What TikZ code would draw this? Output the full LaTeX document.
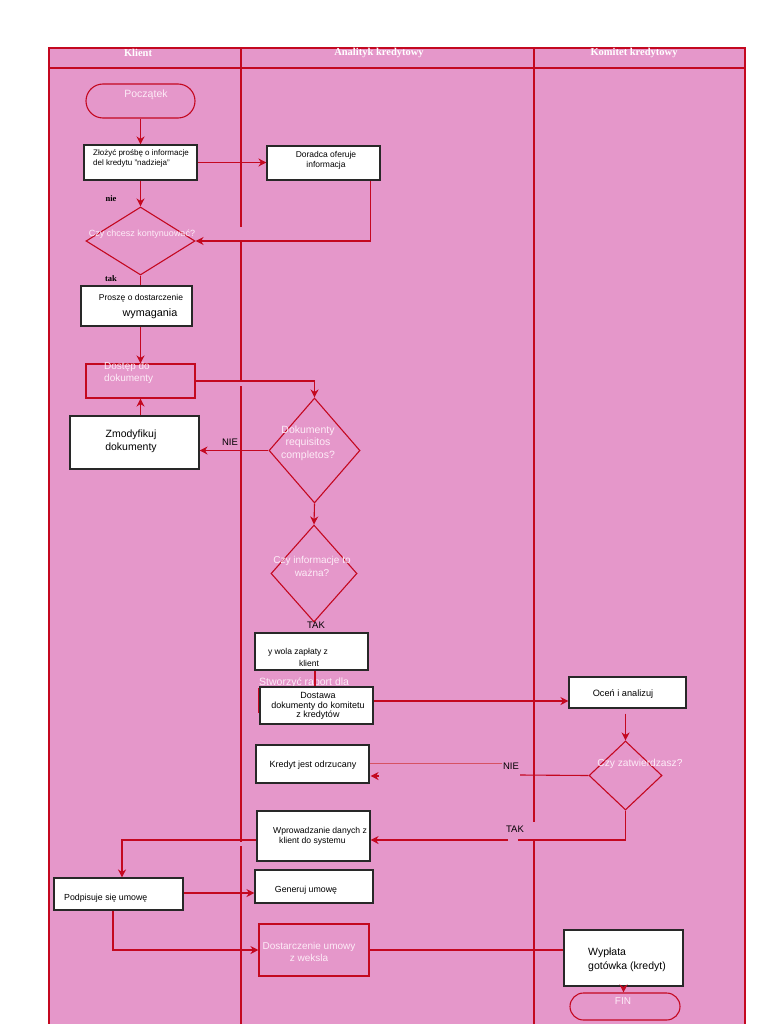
\documentclass[tikz,border=0pt]{standalone}
\usepackage{fontspec}
\setmainfont{Liberation Sans}
\newfontfamily\hdrfont{Liberation Serif}
\usetikzlibrary{arrows.meta,shapes.geometric,calc}
\definecolor{poolpink}{RGB}{229,151,202}
\definecolor{lred}{RGB}{196,8,32}
\definecolor{txtpink}{RGB}{253,236,247}
\definecolor{boxline}{RGB}{40,40,40}
\tikzset{
  wbox/.style={draw=boxline, fill=white, line width=1.1pt, inner sep=0pt},
  pbox/.style={draw=lred, fill=poolpink, line width=1.1pt, inner sep=0pt},
  dia/.style={diamond, draw=lred, fill=poolpink, line width=1.1pt, inner sep=0pt},
  term/.style={draw=lred, fill=poolpink, line width=1.1pt, inner sep=0pt},
  lane/.style={draw=lred, line width=1.5pt},
  arr/.style={draw=lred, line width=1.1pt, -{Stealth[length=8pt,width=8pt,inset=2.5pt]}},
  ln/.style={draw=lred, line width=1.1pt},
  tb/.style={inner sep=0pt, align=center, text=black},
  tw/.style={inner sep=0pt, align=center, text=txtpink},
  hdr/.style={inner sep=0pt, text=white, font=\hdrfont\bfseries\fontsize{10.5}{12}\selectfont},
  lbl/.style={inner sep=0pt, text=black, font=\hdrfont\bfseries\fontsize{8.5}{10}\selectfont},
  lbs/.style={inner sep=0pt, text=black, font=\fontsize{9.5}{11}\selectfont},
}
\begin{document}
\begin{tikzpicture}[x=1pt,y=-1pt]
\useasboundingbox (0,0) rectangle (768,1024);
\fill[white] (0,0) rectangle (768,1024);
% pool
\fill[poolpink] (49,48) rectangle (745,1030);
\draw[lane] (49,1030) -- (49,48) -- (745,48) -- (745,1030);
\draw[lane] (49,68) -- (745,68);
\draw[lane] (241,48) -- (241,227);
\draw[lane] (241,242) -- (241,380);
\draw[lane] (241,386) -- (241,842);
\draw[lane] (241,846) -- (241,1030);
\draw[lane] (534,48) -- (534,822);
\draw[lane] (534,840) -- (534,1030);
\node[hdr] (h1) at (138,53) {Klient};
\node[hdr] (h2) at (379,53) {Analityk kredytowy};
\node[hdr] (h3) at (634,53) {Komitet kredytowy};

% shapes
\node[term, rounded corners=17pt, minimum width=109, minimum height=34] (start) at (140.5,101) {};
\node[tw, font=\fontsize{10.5}{12}\selectfont] (startt) at (146,95) {Początek};

\node[wbox, minimum width=113, minimum height=35] (b1) at (140.5,162.5) {};
\node[tb, align=left, anchor=west, font=\fontsize{8}{10}\selectfont] (b1t) at (93,158) {Złożyć prośbę o informacje\\del kredytu "nadzieja"};

\node[wbox, minimum width=113, minimum height=34] (dor) at (323.5,163) {};
\node[tb, font=\fontsize{8.5}{10}\selectfont] (dort) at (326,160) {Doradca oferuje\\informacja};

\node[dia, minimum width=109, minimum height=68] (d1) at (140.5,241) {};
\node[tw, font=\fontsize{9}{10}\selectfont] (d1t) at (142,234) {Czy chcesz kontynuować?};
\node[lbl] (nie) at (111,199) {nie};
\node[lbl] (tak) at (111,279) {tak};

\node[wbox, minimum width=111, minimum height=40] (pro) at (136.5,306) {};
\node[tb, font=\fontsize{8.5}{10}\selectfont] (prot1) at (141,298) {Proszę o dostarczenie};
\node[tb, font=\fontsize{10.8}{12}\selectfont] (prot2) at (150,314) {wymagania};

\node[pbox, minimum width=109, minimum height=34] (dos) at (140.5,381) {};
\node[tw, align=left, anchor=west, font=\fontsize{10}{12}\selectfont] (dost) at (104,373) {Dostęp do\\dokumenty};

\node[wbox, minimum width=129, minimum height=53] (zmo) at (134.5,442.5) {};
\node[tb, font=\fontsize{10.5}{13}\selectfont] (zmot) at (131,441) {Zmodyfikuj\\dokumenty};

\node[dia, minimum width=91, minimum height=105] (d2) at (314.5,450.5) {};
\node[tw, font=\fontsize{10.5}{12.5}\selectfont] (d2t) at (308,443) {Dokumenty\\requisitos\\completos?};

\node[dia, minimum width=86, minimum height=97] (d3) at (314,573.5) {};
\node[tw, font=\fontsize{10}{13}\selectfont] (d3t) at (312,566) {Czy informacje to\\ważna?};
\node[lbs] (tak2) at (316,625) {TAK};

\node[wbox, minimum width=113, minimum height=37] (ywo) at (311.5,651.5) {};
\node[tb, font=\fontsize{8.5}{11}\selectfont] (ywot1) at (298,652) {y wola zapłaty z};
\node[tb, font=\fontsize{8.5}{11}\selectfont] (ywot2) at (309,663) {klient};

\node[tw, anchor=west, font=\fontsize{10.5}{12}\selectfont] (stw) at (259,683) {Stworzyć raport dla};
\draw[ln] (259,688) -- (259,713);

\node[wbox, minimum width=113, minimum height=37] (dst) at (316.5,705.5) {};
\node[tb, font=\fontsize{9}{9.5}\selectfont] (dstt) at (318,706) {Dostawa\\dokumenty do komitetu\\z kredytów};

\node[wbox, minimum width=117, minimum height=31] (oce) at (627.5,692.5) {};
\node[tb, font=\fontsize{9.2}{11}\selectfont] (ocet) at (623,694) {Oceń i analizuj};

\node[dia, minimum width=73, minimum height=69] (d4) at (625.5,775.5) {};
\node[tw, font=\fontsize{10.2}{12}\selectfont] (d4t) at (640,764) {Czy zatwierdzasz?};

\node[wbox, minimum width=113, minimum height=38] (kre) at (312.5,764) {};
\node[tb, font=\fontsize{9}{11}\selectfont] (kret) at (313,765) {Kredyt jest odrzucany};

\node[wbox, minimum width=113, minimum height=50] (wpr) at (313.5,836) {};
\node[tb, anchor=west, font=\fontsize{8.6}{10}\selectfont] (wprt1) at (273,831) {Wprowadzanie danych z};
\node[tb, anchor=west, font=\fontsize{8.6}{10}\selectfont] (wprt2) at (279,841) {klient do systemu};

\node[wbox, minimum width=129, minimum height=32] (pod) at (118.5,894) {};
\node[tb, anchor=west, font=\fontsize{8.8}{11}\selectfont] (podt) at (64,898) {Podpisuje się umowę};

\node[wbox, minimum width=118, minimum height=33] (gen) at (314,886.5) {};
\node[tb, font=\fontsize{8.8}{11}\selectfont] (gent) at (306,890) {Generuj umowę};

\node[pbox, minimum width=110, minimum height=52] (dsc) at (314,950) {};
\node[tw, font=\fontsize{10}{12}\selectfont] (dsct) at (309,952) {Dostarczenie umowy\\z weksla};

\node[wbox, minimum width=119, minimum height=56] (wyp) at (623.5,958) {};
\node[tb, align=left, anchor=west, font=\fontsize{10.5}{14}\selectfont] (wypt) at (588,960) {Wypłata\\gotówka (kredyt)};

\node[term, rounded corners=13.5pt, minimum width=110, minimum height=27] (fin) at (625,1006.5) {};
\node[tw, font=\fontsize{10}{12}\selectfont] (fint) at (623,1001) {FIN};

% connectors
\draw[arr] (start.south) -- (b1.north);
\draw[arr] (b1.east) -- (dor.west |- b1.east);
\draw[arr] (b1.south) -- (d1.north);
\draw[arr] ([xshift=-10pt]dor.south east) |- (d1.east);
\draw[ln] (d1.south) -- (d1.south |- pro.north);
\draw[arr] (dos.north |- pro.south) -- (dos.north);
\draw[arr] (dos.south |- zmo.north) -- (dos.south);
\draw[arr] (dos.east) -| (d2.north);
\draw[arr] (d2.west) -- (zmo.east |- d2.west);
\node[lbs] (nie2) at (230,442) {NIE};
\draw[arr] (d2.south) -- (d3.north);
\draw[ln] ([xshift=3.5pt]ywo.south) -- ([xshift=-1.5pt]dst.north);
\draw[arr] ([yshift=4.5pt]dst.east) -- ([yshift=4.5pt]dst.east -| oce.west);
\draw[arr] ([yshift=-5pt]oce.south -| d4.north) -- (d4.north);
% NIE branch
\coordinate (n1) at (520,775);
\draw[ln] (d4.west) -- (n1);
\node[lbs] (nie3) at (511,766) {NIE};
\coordinate (n2) at (502,763);
\draw[ln, line width=0.7pt, draw=lred!70] (n2) -- (kre.east |- n2);
\draw[arr] ([xshift=9pt]kre.east |- 0,776) -- ([xshift=1pt]kre.east |- 0,776);
% TAK branch
\coordinate (t1) at (518,840);
\coordinate (t2) at (508,840);
\draw[ln] (d4.south) |- (t1);
\node[lbs] (tak3) at (515,829) {TAK};
\draw[arr] (t2) -- (wpr.east |- t2);
\draw[arr] ([yshift=-4pt]wpr.west) -| ([xshift=3.5pt]pod.north);
\draw[arr] ([yshift=1pt]pod.east) -- ([yshift=1pt]pod.east -| gen.west);
\draw[arr] ([xshift=-5.5pt]pod.south) |- (dsc.west);
\draw[ln] (dsc.east) -- (wyp.west |- dsc.east);
\draw[arr] (wyp.south) -- (wyp.south |- fin.north);
\end{tikzpicture}
\end{document}
